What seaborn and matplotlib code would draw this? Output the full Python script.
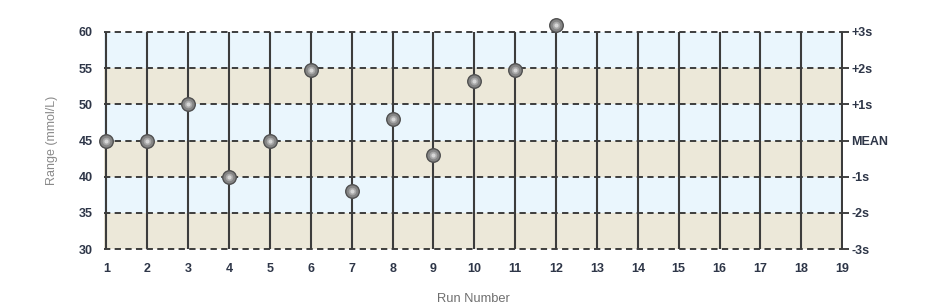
import matplotlib
matplotlib.use("Agg")
import matplotlib.pyplot as plt
import seaborn as sns
import pandas as pd

# ---- data ----
runs = list(range(1, 20))
point_runs = [1, 2, 3, 4, 5, 6, 7, 8, 9, 10, 11, 12]
point_values = [45, 45, 50, 40, 45, 54.7, 38, 48, 43, 53.2, 54.8, 61]
y_ticks = [30, 35, 40, 45, 50, 55, 60]
sd_labels = ["-3s", "-2s", "-1s", "MEAN", "+1s", "+2s", "+3s"]
x_label = "Run Number"
y_label = "Range (mmol/L)"

df = pd.DataFrame({"run": point_runs, "value": point_values})

sns.set_style("white")
plt.rcParams["font.family"] = ["Liberation Sans", "DejaVu Sans"]

fig = plt.figure(figsize=(9.32, 3.05), dpi=100)
ax = fig.add_axes([104 / 932, 1 - 249 / 305, (843 - 104) / 932, (249 - 32) / 305])

blue = "#EAF6FD"
beige = "#ECE8D9"
for i in range(len(y_ticks) - 1):
    ax.axhspan(y_ticks[i], y_ticks[i + 1], color=beige if i % 2 == 0 else blue, lw=0, zorder=0)

for yv in y_ticks:
    ax.axhline(yv, color="#2f2f2f", lw=1.3, linestyle=(0, (3.5, 2.4)), zorder=1, clip_on=False)
for xv in runs:
    ax.axvline(xv, color="#3c3c3c", lw=1.5, zorder=2)

sns.scatterplot(data=df, x="run", y="value", ax=ax, s=95, color="#858585",
                edgecolor="#505050", linewidth=1.0, zorder=5, clip_on=False, legend=False)
ax.scatter(df["run"], df["value"], s=30, color="#a8a8a8", lw=0, zorder=6, clip_on=False)
ax.scatter(df["run"], df["value"], s=9, color="#d6d6d6", lw=0, zorder=7, clip_on=False)

ax.set_xlim(0.94, 19.02)
ax.set_ylim(30, 60)
ax.set_xticks(runs)
ax.set_yticks(y_ticks)
tick_color = "#2E3648"
ax.tick_params(axis="x", length=0, pad=10, labelsize=9, labelcolor=tick_color)
ax.tick_params(axis="y", length=0, pad=8, labelsize=9, labelcolor=tick_color)
for lab in ax.get_xticklabels() + ax.get_yticklabels():
    lab.set_fontweight("bold")
for sp in ax.spines.values():
    sp.set_visible(False)

ax.set_xlabel(x_label, color="#6f6f6f", fontsize=9.3, labelpad=13)
ax.set_ylabel(y_label, color="#8a8a8a", fontsize=9, labelpad=15)

ax2 = ax.twinx()
ax2.set_ylim(30, 60)
ax2.set_yticks(y_ticks)
ax2.set_yticklabels(sd_labels)
ax2.tick_params(axis="y", length=4, width=1.3, color="#333333", pad=2, labelsize=9,
                labelcolor=tick_color)
for lab in ax2.get_yticklabels():
    lab.set_fontweight("bold")
for sp in ax2.spines.values():
    sp.set_visible(False)

fig.savefig("out.png", dpi=100)
